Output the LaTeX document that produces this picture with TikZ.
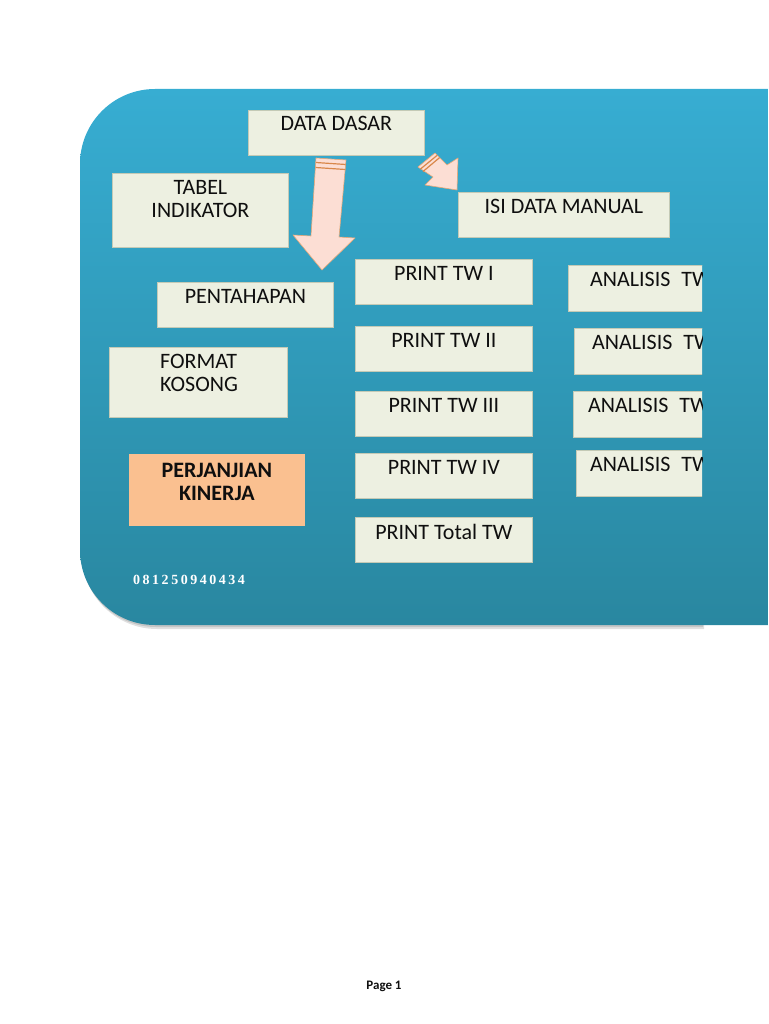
\documentclass[tikz,border=0pt]{standalone}
\usepackage{fontspec}
\setmainfont{Carlito}
\newfontfamily\numfont[LetterSpace=18]{Liberation Serif}
\usetikzlibrary{positioning}

\definecolor{panelTop}{RGB}{55,173,210}
\definecolor{panelBottom}{RGB}{41,135,160}
\definecolor{boxfill}{RGB}{237,240,225}
\definecolor{boxline}{RGB}{196,202,182}
\definecolor{pkfill}{RGB}{250,192,144}
\definecolor{textdark}{RGB}{15,15,15}
\definecolor{arrowfill}{RGB}{252,222,212}
\definecolor{arrowline}{RGB}{232,168,120}
\definecolor{arrowstripe}{RGB}{217,135,74}

\newcommand{\boxfont}{\fontsize{22}{23.5}\selectfont}

\begin{document}
\begin{tikzpicture}[
x=1pt, y=-1pt,
box/.style={draw=boxline, fill=boxfill, line width=0.8pt, anchor=north west, inner sep=0pt},
boxtext/.style={font=\boxfont, text=textdark, align=center, inner sep=0pt},
blockarrow/.style={fill=arrowfill, draw=arrowline, line width=0.6pt, line join=round},
stripe/.style={draw=arrowstripe, line width=1.2pt}
]
\useasboundingbox (0,0) rectangle (768,1024);

%Panel
\fill[black, opacity=0.12, shift={(1,2)}] (702,89) [rounded corners=75pt] -- (80,89) -- (80,625) [sharp corners] -- (702,625) -- cycle;
\fill[black, opacity=0.12, shift={(2,4)}] (702,89) [rounded corners=75pt] -- (80,89) -- (80,625) [sharp corners] -- (702,625) -- cycle;
\path[top color=panelTop, bottom color=panelBottom] (768,89) [rounded corners=75pt] -- (80,89) -- (80,625) [sharp corners] -- (768,625) -- cycle;

%Nodes
\node[box, minimum width=176pt, minimum height=45pt] (dasar) at (248,110) {};
\node[box, minimum width=176pt, minimum height=74pt] (tabel) at (112,173) {};
\node[box, minimum width=211pt, minimum height=45pt] (manual) at (458,192) {};
\node[box, minimum width=176pt, minimum height=45pt] (tahap) at (157,282) {};
\node[box, minimum width=178pt, minimum height=70pt] (format) at (109,347) {};
\node[box, fill=pkfill, draw=pkfill, minimum width=175pt, minimum height=71pt] (pk) at (129,454) {};

\node[boxtext, below=6pt of dasar.north] (dasar-t) {DATA DASAR};
\node[boxtext, below=7pt of tabel.north] (tabel-t) {TABEL\\INDIKATOR};
\node[boxtext, below=7pt of manual.north] (manual-t) {ISI DATA MANUAL};
\node[boxtext, below=7pt of tahap.north] (tahap-t) {PENTAHAPAN};
\node[boxtext, align=left, below right=7pt and 51pt of format.north west] (format-t) {FORMAT\\KOSONG};
\node[boxtext, font=\boxfont\bfseries, below=9pt of pk.north] (pk-t) {PERJANJIAN\\KINERJA};

\foreach \n/\y/\txt in {% name/top/text
      1/259/{PRINT TW I},
      2/326/{PRINT TW II},
      3/391/{PRINT TW III},
      4/453/{PRINT TW IV},
      5/517/{PRINT Total TW}}{
  \node[box, minimum width=177pt, minimum height=45pt] (ptw\n) at (355,\y) {};
  \node[boxtext, below=7pt of ptw\n.north] (ptw\n-t) {\txt};
}

\begin{scope}
\clip (0,0) rectangle (702,1024);
\foreach \n/\x/\y/\t/\r in {% name/left/top/text offset/roman
      1/568/265/22/I,
      2/574/328/18/II,
      3/573/391/15/III,
      4/576/450/14/IV}{
  \node[box, minimum width=150pt, minimum height=46pt] (ana\n) at (\x,\y) {};
  \node[boxtext, anchor=north west, below right=7pt and \t pt of ana\n.north west] (ana\n-t) {ANALISIS\hspace{11pt}TW~\r};
}
\end{scope}

%Arrows
\draw[blockarrow] (316,158) -- (346,160) -- (339,237) -- (355,238) -- (322,270) -- (293,235) -- (311,236) -- cycle;
\draw[stripe] (316,162.5) -- (345.7,164.5);
\draw[stripe] (315.6,167.5) -- (345.3,169.5);
\draw[blockarrow] (418,167) -- (435,153) -- (447,165) -- (458,158) -- (457,190) -- (425,185) -- (433,177) -- cycle;
\draw[stripe] (420.5,169) -- (437.3,155.2);
\draw[stripe] (423,171.5) -- (439.6,157.6);

%Texts
\node[anchor=base west, text=white, font=\numfont\bfseries\fontsize{14}{16}\selectfont, inner sep=0pt] (phone) at (133,584) {081250940434};
\node[anchor=base, text=textdark, font=\bfseries\fontsize{13}{15}\selectfont, inner sep=0pt] (page) at (384,989) {Page 1};
\end{tikzpicture}
\end{document}
